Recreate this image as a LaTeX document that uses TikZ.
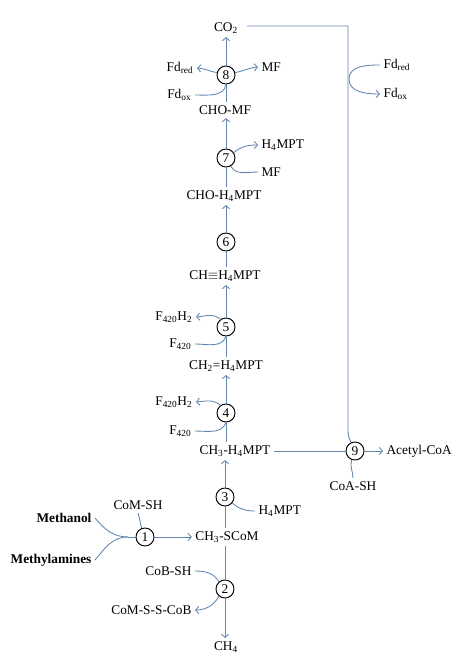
\documentclass[tikz,border=0pt]{standalone}
\usepackage{fontspec}
\setmainfont{Liberation Serif}
\usetikzlibrary{arrows.meta}
\definecolor{pathblue}{RGB}{98,134,176}
\tikzset{
    enzyme/.style={circle, draw=black, line width=0.7pt, minimum size=13.5pt, inner sep=0pt},
    cpd/.style={inner sep=2.5pt},
    flow/.style={draw=pathblue, line width=0.65pt},
    conv/.style={flow, -{Straight Barb[length=2.4pt,width=5.5pt]}}
}

\begin{document}
\begin{tikzpicture}[x=0.75pt, y=-0.75pt]
    \useasboundingbox (0,0) rectangle (474,661);

    % main column
    \node[cpd] (co2) at (226,28) {CO\textsubscript{2}};
    \node[enzyme] (e8) at (226,75) {8};
    \node[cpd] (chomf) at (225,110) {CHO-MF};
    \node[enzyme] (e7) at (226,158) {7};
    \node[cpd] (chompt) at (224,196) {CHO-H\textsubscript{4}MPT};
    \node[enzyme] (e6) at (226,242) {6};
    \node[cpd] (chmpt) at (225,276) {CH$\equiv$H\textsubscript{4}MPT};
    \node[enzyme] (e5) at (226,327) {5};
    \node[cpd] (chtwompt) at (226,366) {CH\textsubscript{2}=H\textsubscript{4}MPT};
    \node[enzyme] (e4) at (226,413) {4};
    \node[cpd] (chthreempt) at (235,451) {CH\textsubscript{3}-H\textsubscript{4}MPT};
    \node[enzyme] (e3) at (225,497) {3};
    \node[cpd] (chscom) at (227,537) {CH\textsubscript{3}-SCoM};
    \node[enzyme] (e2) at (225,589) {2};
    \node[cpd] (chfour) at (226,647) {CH\textsubscript{4}};

    % side compounds
    \node[cpd, anchor=east] (fdredl) at (197,68) {Fd\textsubscript{red}};
    \node[cpd, anchor=west] (mfout) at (258,67) {MF};
    \node[cpd, anchor=east] (fdoxl) at (195,95) {Fd\textsubscript{ox}};
    \node[cpd, anchor=west] (mptout) at (258,145) {H\textsubscript{4}MPT};
    \node[cpd, anchor=west] (mfin) at (258,172) {MF};
    \node[cpd, anchor=east] (fhtwofive) at (196,317) {F\textsubscript{420}H\textsubscript{2}};
    \node[cpd, anchor=east] (ffive) at (195,344) {F\textsubscript{420}};
    \node[cpd, anchor=east] (fhtwofour) at (196,402) {F\textsubscript{420}H\textsubscript{2}};
    \node[cpd, anchor=east] (ffour) at (195,431) {F\textsubscript{420}};
    \node[cpd, anchor=west] (mptin) at (255,511) {H\textsubscript{4}MPT};
    \node[cpd] (comsh) at (138,505) {CoM-SH};
    \node[enzyme] (e1) at (145,537) {1};
    \node[cpd, anchor=east, font=\bfseries] (methanol) at (95,518) {Methanol};
    \node[cpd, anchor=east, font=\bfseries] (methylam) at (95,560) {Methylamines};
    \node[cpd, anchor=east] (cobsh) at (195,571) {CoB-SH};
    \node[cpd, anchor=east] (heterod) at (195,610) {CoM-S-S-CoB};

    % acetyl-CoA branch
    \node[enzyme] (e9) at (355,451) {9};
    \node[cpd, anchor=west] (acetyl) at (383,451) {Acetyl-CoA};
    \node[cpd] (coash) at (353,486) {CoA-SH};
    \node[cpd, anchor=west] (fdredr) at (380,65) {Fd\textsubscript{red}};
    \node[cpd, anchor=west] (fdoxr) at (380,94) {Fd\textsubscript{ox}};
    \coordinate (start) at (247,26);
    \coordinate (corner) at (348,26);
    \coordinate (bend) at (349,79);
    \coordinate (merge) at (128,537);

    % chain connectors
    \draw[conv] (e8.north) -- (e8 |- co2.south);
    \draw[flow] (e8 |- chomf.north) -- (e8.south);
    \draw[conv] (e7.north) -- (e7 |- chomf.south);
    \draw[flow] (e7 |- chompt.north) -- (e7.south);
    \draw[conv] (e6.north) -- (e6 |- chompt.south);
    \draw[flow] (e6 |- chmpt.north) -- (e6.south);
    \draw[conv] (e5.north) -- (e5 |- chmpt.south);
    \draw[flow] (e5 |- chtwompt.north) -- (e5.south);
    \draw[conv] (e4.north) -- (e4 |- chtwompt.south);
    \draw[flow] (e4 |- chthreempt.north) -- (e4.south);
    \draw[conv] (e3.north) -- (e3 |- chthreempt.south);
    \draw[flow] (e3 |- chscom.north) -- (e3.south);
    \draw[flow] (e2 |- chscom.south) -- (e2.north);
    \draw[conv] (e2.south) -- (e2 |- chfour.north);

    % co-substrates
    \draw[conv] (e8.165) to[out=170, in=-5] (fdredl.east);
    \draw[conv] (e8.15) to[out=10, in=185] (mfout.west);
    \draw[flow] (fdoxl.east) to[out=0, in=-100] (e8.south);
    \draw[conv] (e7.35) to[out=40, in=180] (mptout.west);
    \draw[flow] (mfin.west) to[out=180, in=-60] (e7.-60);
    \draw[conv] (e5.125) to[out=140, in=5] (fhtwofive.east);
    \draw[flow] (ffive.east) to[out=0, in=-110] (e5.south);
    \draw[conv] (e4.125) to[out=140, in=5] (fhtwofour.east);
    \draw[flow] (ffour.east) to[out=0, in=-110] (e4.south);
    \draw[flow] (mptin.west) to[out=180, in=-40] (e3.-40);
    \draw[flow] (cobsh.east) to[out=0, in=120] (e2.130);
    \draw[conv] (e2.-130) to[out=-120, in=0] (heterod.east);

    % methyl donors
    \draw[flow] (methanol.east) to[out=-50, in=180] (merge);
    \draw[flow] (methylam.east) to[out=50, in=180] (merge);
    \draw[flow] (merge) -- (e1.west);
    \draw[flow] (comsh.south) to[out=-70, in=110] (e1.110);
    \draw[conv] (e1.east) -- (chscom.west);

    % carbon monoxide route
    \draw[flow] (start) -- (corner) -- (348,430) to[out=-90, in=115] (e9.115);
    \draw[conv] (fdredr.west) to[out=180, in=90] (bend) to[out=-90, in=180] (fdoxr.west);
    \draw[flow] (chthreempt.east) -- (e9.west);
    \draw[conv] (e9.east) -- (acetyl.west);
    \draw[flow] (coash.north) to[out=90, in=-110] (e9.-110);
\end{tikzpicture}
\end{document}
